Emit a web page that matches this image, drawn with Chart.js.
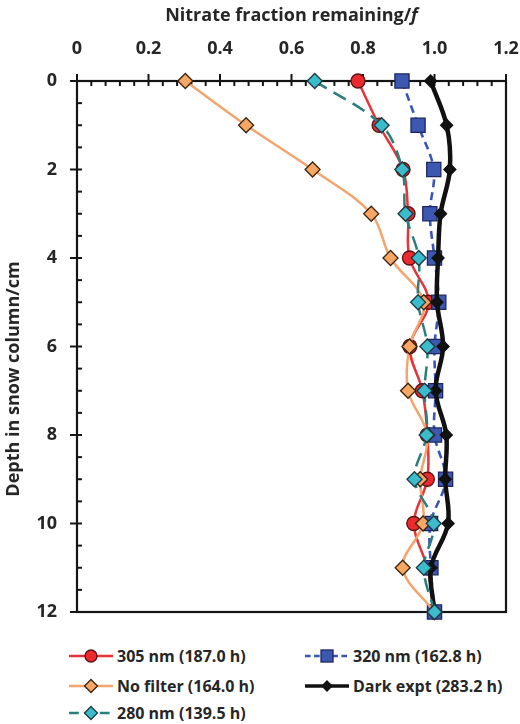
<!DOCTYPE html>
<html>
<head>
<meta charset="utf-8">
<script src="https://cdn.jsdelivr.net/npm/chart.js@4.4.0/dist/chart.umd.min.js"></script>
<style>
body { margin: 0; background: #fff; font-family: "Open Sans", Lato, sans-serif; }
#wrap { position: relative; width: 520px; height: 724px; }
#c { position: absolute; left: 0; top: 0; }
#xtitle { position: absolute; top: 2px; left: 77px; width: 429px; text-align: center;
          font-weight: bold; font-size: 18px; color: #262626; }
#ytitle { position: absolute; left: 12px; top: 379px; width: 300px; margin-left: -150px; margin-top: -12px;
          height: 24px; line-height: 24px; text-align: center; transform: rotate(-90deg);
          font-weight: bold; font-size: 18px; color: #262626; white-space: nowrap; }
.leg { position: absolute; font-weight: bold; font-size: 16px; color: #262626;
       display: flex; align-items: center; height: 24px; white-space: nowrap; }
.leg svg { margin-right: 4px; }
</style>
</head>
<body>
<div id="wrap">
  <canvas id="c" width="520" height="624"></canvas>
  <div id="xtitle">Nitrate fraction remaining/<i>f</i></div>
  <div id="ytitle">Depth in snow column/cm</div>
  <div id="legend"></div>
</div>
<script>
// depth in snow column (cm)
const depth = [0, 1, 2, 3, 4, 5, 6, 7, 8, 9, 10, 11, 12];

// nitrate fraction remaining
const nm305    = [0.786, 0.845, 0.912, 0.926, 0.930, 0.984, 0.931, 0.966, 0.980, 0.980, 0.942, 0.980, 1.000];
const nm320    = [0.909, 0.954, 0.998, 0.987, 1.000, 1.012, 1.000, 1.003, 1.000, 1.031, 0.989, 0.990, 1.000];
const noFilter = [0.303, 0.473, 0.659, 0.823, 0.877, 0.970, 0.930, 0.926, 0.980, 0.960, 0.968, 0.911, 1.000];
const darkExpt = [0.989, 1.034, 1.043, 1.017, 1.010, 1.007, 1.024, 1.003, 1.033, 1.030, 1.038, 0.990, 1.000];
const nm280    = [0.665, 0.852, 0.910, 0.919, 0.956, 0.954, 0.980, 0.972, 0.978, 0.944, 0.998, 0.970, 1.000];

const xTicksMajor = [0, 0.2, 0.4, 0.6, 0.8, 1, 1.2];
const yTicksMajor = [0, 2, 4, 6, 8, 10, 12];

const series = [
  { label: "305 nm (187.0 h)",    vals: nm305,    line: "#e8333a", fill: "#ec2a2e", edge: "#5a1212", style: "circle",  r: 7,  w: 2.5, dash: [],      order: 5 },
  { label: "320 nm (162.8 h)",    vals: nm320,    line: "#3a55b8", fill: "#3d58b0", edge: "#1c2660", style: "rect",    r: 10, w: 2.6, dash: [8, 5],  order: 4 },
  { label: "No filter (164.0 h)", vals: noFilter, line: "#f4a46c", fill: "#f7a764", edge: "#3a220e", style: "rectRot", r: 7.5,w: 2.5, dash: [],      order: 3 },
  { label: "Dark expt (283.2 h)", vals: darkExpt, line: "#111111", fill: "#111111", edge: "#111111", style: "rectRot", r: 6,  w: 4.5, dash: [],      order: 2 },
  { label: "280 nm (139.5 h)",    vals: nm280,    line: "#2a7f7c", fill: "#3bbccc", edge: "#1f3a40", style: "rectRot", r: 7.5,w: 2.5, dash: [14, 8], order: 1 }
];

const datasets = series.map(s => ({
  label: s.label,
  data: depth.map((d, i) => ({ x: s.vals[i], y: d })),
  showLine: true,
  borderColor: s.line,
  borderWidth: s.w,
  borderDash: s.dash,
  tension: 0.35,
  pointStyle: s.style,
  pointRadius: s.r,
  pointBackgroundColor: s.fill,
  pointBorderColor: s.edge,
  pointBorderWidth: 1.3,
  order: s.order,
  clip: false
}));

// axis frame with inside minor ticks, like the original
const frame = {
  id: "frame",
  beforeDatasetsDraw(chart) {
    const { ctx, chartArea: a, scales: { x, y } } = chart;
    ctx.save();
    ctx.strokeStyle = "#151515";
    ctx.lineWidth = 2.2;
    ctx.strokeRect(a.left, a.top, a.right - a.left, a.bottom - a.top);
    ctx.lineWidth = 2;
    for (let i = 0; i <= 30; i++) {
      const px = x.getPixelForValue(i * 0.04);
      const major = i % 5 === 0;
      ctx.beginPath();
      ctx.moveTo(px, major ? a.top - 7 : a.top);
      ctx.lineTo(px, a.top + 5);
      ctx.stroke();
    }
    for (let i = 0; i <= 24; i++) {
      const py = y.getPixelForValue(i * 0.5);
      const major = i % 4 === 0;
      ctx.beginPath();
      ctx.moveTo(major ? a.left - 7 : a.left, py);
      ctx.lineTo(a.left + 5, py);
      ctx.stroke();
    }
    ctx.restore();
  }
};

const tickFont = { family: "Open Sans", size: 18, weight: "bold" };

new Chart(document.getElementById("c"), {
  type: "scatter",
  data: { datasets: datasets },
  options: {
    responsive: false,
    animation: false,
    devicePixelRatio: 1,
    layout: { padding: { left: 0, top: 0, right: 14, bottom: 12 } },
    plugins: { legend: { display: false }, tooltip: { enabled: false } },
    scales: {
      x: {
        type: "linear",
        position: "top",
        min: 0, max: 1.2,
        afterBuildTicks: s => { s.ticks = xTicksMajor.map(v => ({ value: v })); },
        afterFit: s => { s.height = 81; s.paddingLeft = 0; s.paddingRight = 0; },
        ticks: { font: tickFont, color: "#262626", padding: 21 },
        grid: { display: false, drawTicks: false },
        border: { display: false }
      },
      y: {
        type: "linear",
        reverse: true,
        min: 0, max: 12,
        afterBuildTicks: s => { s.ticks = yTicksMajor.map(v => ({ value: v })); },
        afterFit: s => { s.width = 77; s.paddingTop = 0; s.paddingBottom = 0; },
        ticks: { font: tickFont, color: "#262626", padding: 20 },
        grid: { display: false, drawTicks: false },
        border: { display: false }
      }
    }
  },
  plugins: [frame]
});

// legend: two columns, row-major, glyph = line + marker
const legPos = [
  { left: 69, top: 644 }, { left: 305, top: 644 },
  { left: 69, top: 674 }, { left: 305, top: 674 },
  { left: 69, top: 701 }
];
const legend = document.getElementById("legend");
series.forEach((s, i) => {
  const d = document.createElement("div");
  d.className = "leg";
  d.style.left = legPos[i].left + "px";
  d.style.top = legPos[i].top + "px";
  const dash = s.dash.length ? ` stroke-dasharray="${s.dash[0] * 0.7},${s.dash[1] * 0.7}"` : "";
  let mark;
  if (s.style === "circle") mark = `<circle cx="22" cy="12" r="6" fill="${s.fill}" stroke="${s.edge}" stroke-width="1.3"/>`;
  else if (s.style === "rect") mark = `<rect x="16" y="6" width="12" height="12" fill="${s.fill}" stroke="${s.edge}" stroke-width="1.3"/>`;
  else { const r = s.r < 7 ? 5 : 6.5;
    mark = `<polygon points="22,${12 - r} ${22 + r},12 22,${12 + r} ${22 - r},12" fill="${s.fill}" stroke="${s.edge}" stroke-width="1.3"/>`; }
  d.innerHTML = `<svg width="44" height="24"><line x1="0" y1="12" x2="44" y2="12" stroke="${s.line}" stroke-width="${Math.min(s.w, 3.5)}"${dash}/>${mark}</svg>${s.label}`;
  legend.appendChild(d);
});
</script>
</body>
</html>
